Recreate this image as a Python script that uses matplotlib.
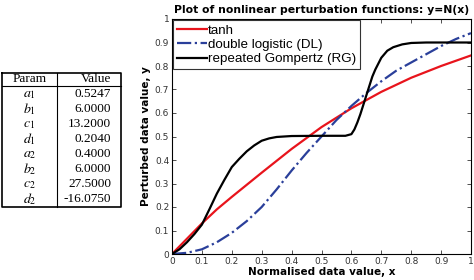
import numpy as np
import matplotlib
matplotlib.use('Agg')
from matplotlib import pyplot as plt

# table of parameters
params = ['$a_1$', '$b_1$', '$c_1$', '$d_1$', '$a_2$', '$b_2$', '$c_2$', '$d_2$']
values = ['0.5247', '6.0000', '13.2000', '0.2040', '0.4000', '6.0000', '27.5000', '-16.0750']

# curves
x_tanh = [0, 0.05, 0.1, 0.15, 0.2, 0.3, 0.4, 0.5, 0.6, 0.7, 0.8, 0.9, 1.0]
y_tanh = [0, 0.065, 0.13, 0.19, 0.243, 0.346, 0.447, 0.54, 0.62, 0.69, 0.75, 0.80, 0.845]

x_dl = [0, 0.05, 0.1, 0.15, 0.2, 0.25, 0.3, 0.35, 0.4, 0.45, 0.5, 0.55, 0.6, 0.65,
        0.7, 0.75, 0.8, 0.85, 0.9, 0.95, 1.0]
y_dl = [0, 0.005, 0.02, 0.05, 0.09, 0.14, 0.2, 0.275, 0.355, 0.43, 0.5, 0.57, 0.63, 0.685,
        0.735, 0.78, 0.815, 0.85, 0.885, 0.915, 0.94]

x_rg = [0, 0.025, 0.05, 0.075, 0.1, 0.125, 0.15, 0.175, 0.2, 0.225, 0.25, 0.275, 0.3,
        0.325, 0.35, 0.4, 0.5, 0.58, 0.6, 0.61, 0.62, 0.63, 0.64, 0.65, 0.66, 0.67,
        0.68, 0.69, 0.7, 0.72, 0.74, 0.77, 0.8, 0.85, 1.0]
y_rg = [0, 0.02, 0.05, 0.085, 0.125, 0.19, 0.257, 0.315, 0.37, 0.405, 0.437, 0.462, 0.482,
        0.492, 0.498, 0.502, 0.503, 0.503, 0.51, 0.53, 0.56, 0.595, 0.635, 0.675, 0.715, 0.755,
        0.785, 0.81, 0.835, 0.865, 0.88, 0.892, 0.898, 0.9, 0.9]

plt.rcParams['mathtext.fontset'] = 'stix'

fig = plt.figure(figsize=(4.74, 2.80), dpi=100)

# table drawn by hand in its own axes
W, H = 474.0, 280.0
tab = fig.add_axes([0, 0, 1, 1])
tab.set_xlim(0, W)
tab.set_ylim(H, 0)
tab.axis('off')
top, head, bot = 73, 86, 207
left, mid, right = 2, 57, 121
tab.plot([left, right, right, left, left], [top, top, bot, bot, top], color='black', lw=1.2)
tab.plot([left, right], [head, head], color='black', lw=0.8)
tab.plot([mid, mid], [top, bot], color='black', lw=0.8)
tab.text((left + mid) / 2, (top + head) / 2, 'Param', ha='center', va='center',
         family='Liberation Serif', fontsize=9.5)
tab.text(111, (top + head) / 2, 'Value', ha='right', va='center',
         family='Liberation Serif', fontsize=9.5)
rh = (bot - head) / len(params)
for i, (p, v) in enumerate(zip(params, values)):
    yc = head + rh * (i + 0.5)
    tab.text((left + mid) / 2, yc, p, ha='center', va='center', fontsize=10)
    tab.text(111, yc, v, ha='right', va='center', family='Liberation Serif', fontsize=9.5)

ax = fig.add_axes([172 / W, 1 - 254 / H, 299 / W, (254 - 19) / H])
ax.plot(x_tanh, y_tanh, color='#e8141c', lw=1.6, label='tanh')
ax.plot(x_dl, y_dl, color='#2a3f9a', lw=1.6, ls='-.', label='double logistic (DL)')
ax.plot(x_rg, y_rg, color='black', lw=1.6, label='repeated Gompertz (RG)')
ax.set_xlim(0, 1)
ax.set_ylim(0, 1)
ax.set_xticks(np.arange(0, 1.01, 0.1))
ax.set_yticks(np.arange(0, 1.01, 0.1))
ax.set_xticklabels(['0', '0.1', '0.2', '0.3', '0.4', '0.5', '0.6', '0.7', '0.8', '0.9', '1'])
ax.set_yticklabels(['0', '0.1', '0.2', '0.3', '0.4', '0.5', '0.6', '0.7', '0.8', '0.9', '1'])
ax.tick_params(direction='in', top=True, right=True, labelsize=6.5, length=3, width=0.6,
               pad=2, colors='#333333')
for s in ax.spines.values():
    s.set_linewidth(0.8)
ax.set_title('Plot of nonlinear perturbation functions: y=N(x)', fontsize=7.8,
             fontweight='bold', pad=4)
ax.set_xlabel('Normalised data value, x', fontsize=7.5, fontweight='bold', labelpad=1)
ax.set_ylabel('Perturbed data value, y', fontsize=7.5, fontweight='bold', labelpad=3)
leg = ax.legend(loc='upper left', prop={'family': 'Liberation Sans', 'size': 9.6},
                handlelength=2.2, handletextpad=0.1, borderpad=0.3, labelspacing=0.15,
                fancybox=False, framealpha=1, borderaxespad=0.1)
leg.get_frame().set_edgecolor('#333333')
leg.get_frame().set_linewidth(0.8)

fig.savefig('out.png', dpi=100)
